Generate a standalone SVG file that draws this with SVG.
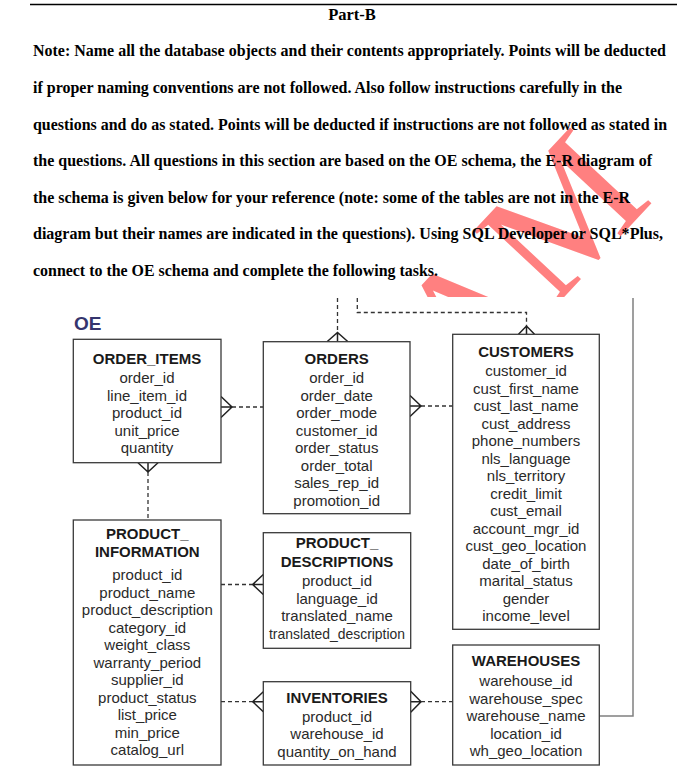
<svg xmlns="http://www.w3.org/2000/svg" width="694" height="771" viewBox="0 0 694 771">
  <defs>
    <style>
      .doc { font-family: "Liberation Serif", "Times New Roman", serif; font-weight: bold; font-size: 16.5px; fill: #000; }
      .box { fill: #fff; stroke: #3a3a3a; stroke-width: 1.3; }
      .ttl { font-family: "Liberation Sans", Arial, sans-serif; font-weight: bold; font-size: 15px; fill: #1a1a1a; text-anchor: middle; }
      .fld { font-family: "Liberation Sans", Arial, sans-serif; font-size: 15px; fill: #2a2a2a; text-anchor: middle; }
      .dash { fill: none; stroke: #333; stroke-width: 1.3; stroke-dasharray: 4 3; }
      .foot { fill: none; stroke: #222; stroke-width: 1.5; }
      .solid { fill: none; stroke: #808080; stroke-width: 1.5; }
    </style>
    <clipPath id="wmclip"><rect x="0" y="0" width="694" height="297"/></clipPath>
  </defs>
  <rect x="0" y="0" width="694" height="771" fill="#fff"/>

  <!-- watermark -->
  <g id="watermark" clip-path="url(#wmclip)">
    <text x="0" y="0" transform="translate(468,400) rotate(-47)" font-family="Liberation Serif, serif" font-size="170" fill="#ff8080">AM</text>
  </g>

  <!-- header text -->
  <g id="header">
    <line x1="30" y1="4.5" x2="677" y2="4.5" stroke="#000" stroke-width="1.3"/>
    <text class="doc" x="352" y="20" text-anchor="middle">Part-B</text>
    <text class="doc" x="33" y="56" textLength="633" lengthAdjust="spacingAndGlyphs">Note: Name all the database objects and their contents appropriately. Points will be deducted</text>
    <text class="doc" x="33" y="93" textLength="589" lengthAdjust="spacingAndGlyphs">if proper naming conventions are not followed. Also follow instructions carefully in the</text>
    <text class="doc" x="33" y="130" textLength="634" lengthAdjust="spacingAndGlyphs">questions and do as stated. Points will be deducted if instructions are not followed as stated in</text>
    <text class="doc" x="33" y="166" textLength="619" lengthAdjust="spacingAndGlyphs">the questions. All questions in this section are based on the OE schema, the E-R diagram of</text>
    <text class="doc" x="33" y="203" textLength="597" lengthAdjust="spacingAndGlyphs">the schema is given below for your reference (note: some of the tables are not in the E-R</text>
    <text class="doc" x="33" y="239" textLength="630" lengthAdjust="spacingAndGlyphs">diagram but their names are indicated in the questions). Using SQL Developer or SQL*Plus,</text>
    <text class="doc" x="33" y="276" textLength="405" lengthAdjust="spacingAndGlyphs">connect to the OE schema and complete the following tasks.</text>
  </g>

  <text id="schema-label" x="74" y="330" font-family="Liberation Sans, Arial, sans-serif" font-weight="bold" font-size="19" fill="#35356e">OE</text>

  <!-- connectors -->
  <g id="connectors">
    <path class="foot" d="M221,396.5 L232,407 L221,417.5 M221,407 L232,407"/>
    <path class="dash" d="M232,407 L263.3,407"/>
    <path class="foot" d="M410,395.5 L421,406 L410,416.5 M410,406 L421,406"/>
    <path class="dash" d="M421,406 L452.7,406"/>
    <path class="foot" d="M138,462.7 L148,472 L158,462.7 M148,462.7 L148,472"/>
    <path class="dash" d="M148,472 L148,520"/>
    <path class="dash" d="M337.5,298 L337.5,332.5"/>
    <path class="foot" d="M327,341.7 L337.5,332.5 L348,341.7 M337.5,341.7 L337.5,332.5"/>
    <path class="dash" d="M357.3,298 L357.3,312.5 L526.5,312.5 L526.5,326"/>
    <path class="foot" d="M518.5,334.3 L526.5,326 L534.5,334.3 M526.5,334.3 L526.5,326"/>
    <path class="solid" d="M633,298 L633,716 L599.3,716"/>
    <path class="dash" d="M221,584.5 L252.7,584.5"/>
    <path class="foot" d="M263.3,574.5 L252.7,584.5 L263.3,594.5 M263.3,584.5 L252.7,584.5"/>
    <path class="dash" d="M221,701.7 L252.7,701.7"/>
    <path class="foot" d="M263.3,691.7 L252.7,701.7 L263.3,711.7 M263.3,701.7 L252.7,701.7"/>
    <path class="foot" d="M410.7,691.2 L421,701.7 L410.7,712.2 M410.7,701.7 L421,701.7"/>
    <path class="dash" d="M421,701.7 L452.7,701.7"/>
  </g>

  <g id="order_items">
    <rect class="box" x="73.3" y="339.3" width="147.7" height="123.4"/>
    <text class="ttl" x="147" y="364">ORDER_ITEMS</text>
    <text class="fld" x="147" y="383.3">order_id</text>
    <text class="fld" x="147" y="400.8">line_item_id</text>
    <text class="fld" x="147" y="418.3">product_id</text>
    <text class="fld" x="147" y="435.8">unit_price</text>
    <text class="fld" x="147" y="453.3">quantity</text>
  </g>

  <g id="orders">
    <rect class="box" x="263.3" y="341.7" width="146.7" height="172"/>
    <text class="ttl" x="336.7" y="364">ORDERS</text>
    <text class="fld" x="336.7" y="383.3">order_id</text>
    <text class="fld" x="336.7" y="400.8">order_date</text>
    <text class="fld" x="336.7" y="418.3">order_mode</text>
    <text class="fld" x="336.7" y="435.8">customer_id</text>
    <text class="fld" x="336.7" y="453.3">order_status</text>
    <text class="fld" x="336.7" y="470.8">order_total</text>
    <text class="fld" x="336.7" y="488.3">sales_rep_id</text>
    <text class="fld" x="336.7" y="505.8">promotion_id</text>
  </g>

  <g id="customers">
    <rect class="box" x="452.7" y="334.3" width="146.6" height="295"/>
    <text class="ttl" x="526" y="356.7">CUSTOMERS</text>
    <text class="fld" x="526" y="376">customer_id</text>
    <text class="fld" x="526" y="393.5">cust_first_name</text>
    <text class="fld" x="526" y="411">cust_last_name</text>
    <text class="fld" x="526" y="428.5">cust_address</text>
    <text class="fld" x="526" y="446">phone_numbers</text>
    <text class="fld" x="526" y="463.5">nls_language</text>
    <text class="fld" x="526" y="481">nls_territory</text>
    <text class="fld" x="526" y="498.5">credit_limit</text>
    <text class="fld" x="526" y="516">cust_email</text>
    <text class="fld" x="526" y="533.5">account_mgr_id</text>
    <text class="fld" x="526" y="551">cust_geo_location</text>
    <text class="fld" x="526" y="568.5">date_of_birth</text>
    <text class="fld" x="526" y="586">marital_status</text>
    <text class="fld" x="526" y="603.5">gender</text>
    <text class="fld" x="526" y="621">income_level</text>
  </g>

  <g id="product_information">
    <rect class="box" x="73.3" y="520" width="147.7" height="245"/>
    <text class="ttl" x="147.3" y="539.3">PRODUCT_</text>
    <text class="ttl" x="147.3" y="557.3">INFORMATION</text>
    <text class="fld" x="147.3" y="580">product_id</text>
    <text class="fld" x="147.3" y="597.5">product_name</text>
    <text class="fld" x="147.3" y="615">product_description</text>
    <text class="fld" x="147.3" y="632.5">category_id</text>
    <text class="fld" x="147.3" y="650">weight_class</text>
    <text class="fld" x="147.3" y="667.5">warranty_period</text>
    <text class="fld" x="147.3" y="685">supplier_id</text>
    <text class="fld" x="147.3" y="702.5">product_status</text>
    <text class="fld" x="147.3" y="720">list_price</text>
    <text class="fld" x="147.3" y="737.5">min_price</text>
    <text class="fld" x="147.3" y="755">catalog_url</text>
  </g>

  <g id="product_descriptions">
    <rect class="box" x="263.3" y="532.7" width="147.4" height="115.6"/>
    <text class="ttl" x="337" y="548.3">PRODUCT_</text>
    <text class="ttl" x="337" y="566.7">DESCRIPTIONS</text>
    <text class="fld" x="337" y="586">product_id</text>
    <text class="fld" x="337" y="603.5">language_id</text>
    <text class="fld" x="337" y="621">translated_name</text>
    <text class="fld" x="337" y="638.5" textLength="136" lengthAdjust="spacingAndGlyphs">translated_description</text>
  </g>

  <g id="inventories">
    <rect class="box" x="263.3" y="681.7" width="147.4" height="83.3"/>
    <text class="ttl" x="337" y="702.7">INVENTORIES</text>
    <text class="fld" x="337" y="721.7">product_id</text>
    <text class="fld" x="337" y="739.2">warehouse_id</text>
    <text class="fld" x="337" y="756.7">quantity_on_hand</text>
  </g>

  <g id="warehouses">
    <rect class="box" x="452.7" y="645" width="146.6" height="120"/>
    <text class="ttl" x="526" y="666">WAREHOUSES</text>
    <text class="fld" x="526" y="686">warehouse_id</text>
    <text class="fld" x="526" y="703.5">warehouse_spec</text>
    <text class="fld" x="526" y="721">warehouse_name</text>
    <text class="fld" x="526" y="738.5">location_id</text>
    <text class="fld" x="526" y="756">wh_geo_location</text>
  </g>
</svg>
